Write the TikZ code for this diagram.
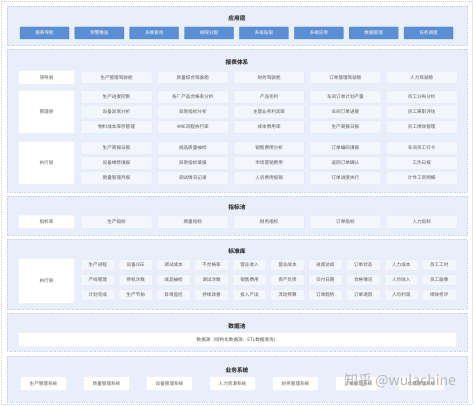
\documentclass[tikz,border=0pt]{standalone}
\usepackage{fontspec}
\setmainfont{Noto Sans CJK SC}
\definecolor{panelbg}{HTML}{E8EFFA}
\definecolor{panelline}{HTML}{C5D3EB}
\definecolor{cellbg}{HTML}{F3F7FD}
\definecolor{cellline}{HTML}{DCE5F3}
\definecolor{appblue}{HTML}{5B8FD4}
\definecolor{txt}{HTML}{555555}
\definecolor{ttl}{HTML}{333333}
\newcommand\rowfive[3]{%
  \foreach \t [count=\i from 0] in {#3} {%
    \node[cell, minimum width=71pt, minimum height=12.5pt] (#1\i) at ({116.5+76.3*\i},#2) {\t};}}
\newcommand\rowten[3]{%
  \foreach \t [count=\i from 0] in {#3} {%
    \node[cell, minimum width=33.5pt, minimum height=10.5pt] (#1\i) at ({97.75+37.94*\i},#2) {\t};}}
\begin{document}
\begin{tikzpicture}[x=1pt,y=-1pt,
  panel/.style={fill=panelbg, draw=panelline, dash pattern=on 1.5pt off 1pt, line width=0.5pt},
  ptitle/.style={font=\fontsize{5.7}{6}\selectfont\bfseries, text=ttl, inner sep=0},
  base/.style={inner sep=0, outer sep=0, font=\fontsize{4.6}{5}\selectfont, rounded corners=0.6pt},
  cell/.style={base, fill=cellbg, draw=cellline, line width=0.3pt, text=txt},
  lab/.style={base, fill=white, draw=white, line width=0.3pt, text=txt},
  appbtn/.style={base, fill=appblue, draw=appblue!85!black, line width=0.3pt, text=white},
]
\useasboundingbox (0,0) rectangle (474,406);
\fill[white] (0,0) rectangle (474,406);
\draw[gray!35, dash pattern=on 1pt off 1pt, line width=0.4pt] (1.5,1.5) rectangle (472.5,404.5);

% panels
\draw[panel] (7,6) rectangle (467,45);
\draw[panel] (7,49) rectangle (467,192);
\draw[panel] (7,196) rectangle (467,235);
\draw[panel] (7,239) rectangle (467,309);
\draw[panel] (7,313) rectangle (467,351);
\draw[panel] (7,356) rectangle (467,402);

% titles
\node[ptitle] (t1) at (237,18) {应用层};
\node[ptitle] (t2) at (237,62) {报表体系};
\node[ptitle] (t3) at (237,207) {指标池};
\node[ptitle] (t4) at (237,251) {标准库};
\node[ptitle] (t5) at (237,326) {数据池};
\node[ptitle] (t6) at (237,370) {业务系统};

% application layer
\foreach \t [count=\i from 0] in {报表导航,预警推送,多维查询,权限分配,多级钻取,多端应用,数据管理,任务调度} {
  \node[appbtn, minimum width=49pt, minimum height=12pt] (app\i) at ({44.5+54.86*\i},33) {\t};}

% report system
\node[lab, minimum width=55pt, minimum height=13pt] (lead) at (46.5,77.5) {领导层};
\rowfive{ra}{77.5}{生产管理驾驶舱,质量综合驾驶舱,财务驾驶舱,订单管理驾驶舱,人力驾驶舱}
\node[lab, minimum width=55pt, minimum height=42pt] (mgr) at (46.5,112) {管理层};
\rowfive{rb}{97}{生产进度控制,各厂产品合格率分析,产品毛利,车间订单计划产量,员工分布分析}
\rowfive{rc}{112}{设备异常分析,异常指标分析,主营业务利润率,车间订单进度,员工离职评估}
\rowfive{rd}{127}{物料成本库存管理,4ME流程执行率,成本费用率,生产周报日报,员工绩效管理}
\node[lab, minimum width=55pt, minimum height=42pt] (exe) at (46.5,163) {执行层};
\rowfive{re}{148}{生产周报日报,成品质量抽检,销售费用分析,订单编码填报,车间员工打卡}
\rowfive{rf}{163}{设备维修填报,异常指标填报,市场营销费用,返回订单确认,工作日报}
\rowfive{rg}{178}{质量管理月报,调试情况记录,人员费用报销,订单进度执行,计件工资明细}

% indicator pool
\node[lab, minimum width=55pt, minimum height=12.5pt] (ilib) at (46.5,222) {指标库};
\rowfive{ia}{222}{生产指标,质量指标,财务指标,订单指标,人力指标}

% standard library
\node[lab, minimum width=55pt, minimum height=44pt] (sexe) at (46.5,281) {执行层};
\rowten{sa}{265}{生产进程,设备OEE,调试成本,不合格率,营业收入,营业成本,进度达成,订单状态,人力成本,员工工时}
\rowten{sb}{280}{产线管理,停机次数,成品抽检,调试次数,销售费用,资产负债,交付日期,合格情况,人均收入,员工画像}
\rowten{sc}{295}{计划完成,生产节拍,异常监控,持续改善,投入产出,流动预算,订单趋势,订单退回,人均利润,绩效考评}

% data pool
\node[lab, minimum width=437pt, minimum height=13pt] (ds) at (237.5,339.5) {数据源（结构化数据源、ETL数据清洗）};

% business systems
\foreach \t [count=\i from 0] in {生产管理系统,质量管理系统,设备管理系统,人力资源系统,财务管理系统,订单管理系统,仓储管理系统} {
  \node[lab, minimum width=45pt, minimum height=13pt] (biz\i) at ({43.5+63*\i},383.5) {\t};}

% watermark
\node[anchor=west, inner sep=0, font=\fontsize{14}{14}\selectfont, text=gray!65, opacity=0.85] (wm) at (344,381) {知乎 @wulachine};
\end{tikzpicture}
\end{document}
